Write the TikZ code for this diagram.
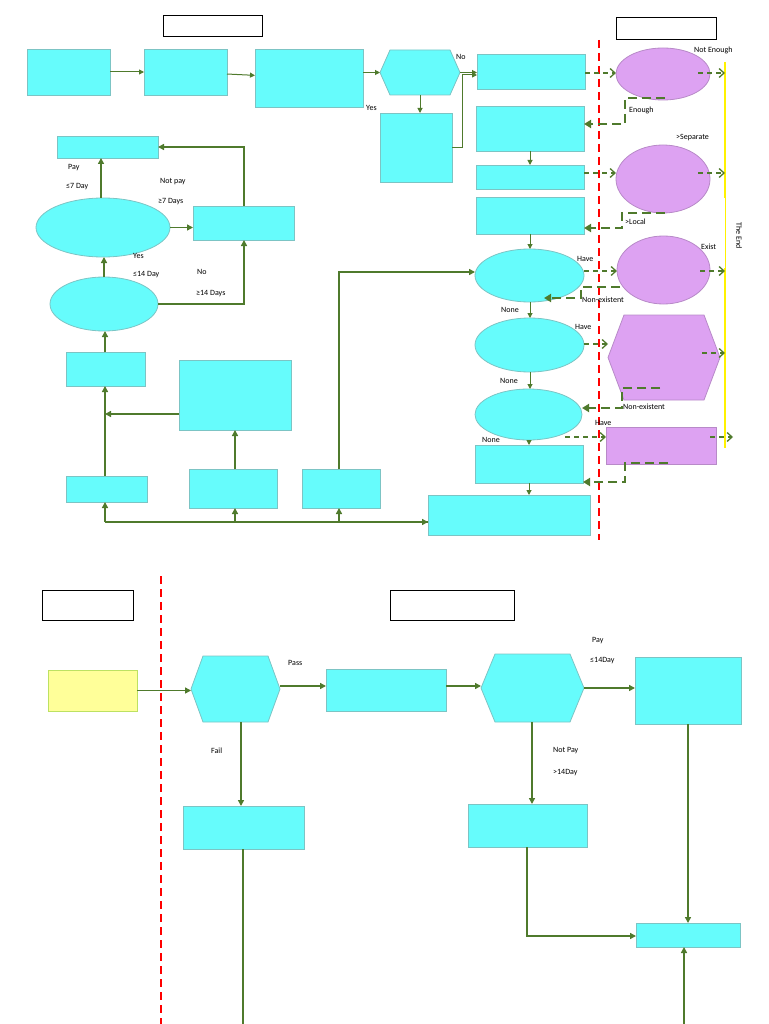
\documentclass[tikz,border=0pt]{standalone}
\usepackage{fontspec}
\setmainfont{Carlito}
\usetikzlibrary{arrows.meta,shapes.geometric}
\definecolor{cy}{HTML}{66FCFC}
\definecolor{cyd}{HTML}{7CC4C4}
\definecolor{pu}{HTML}{DDA2F2}
\definecolor{pud}{HTML}{B88AC8}
\definecolor{gr}{HTML}{4F7A2C}
\definecolor{ye}{HTML}{FFFF99}
\tikzset{
 base/.style={inner sep=0pt,outer sep=0pt},
 cbox/.style={base,rectangle,fill=cy,draw=cyd,line width=0.8pt},
 cell/.style={base,ellipse,fill=cy,draw=cyd,line width=0.8pt},
 pbox/.style={base,rectangle,fill=pu,draw=pud,line width=0.8pt},
 pell/.style={base,ellipse,fill=pu,draw=pud,line width=0.8pt},
 tbox/.style={base,rectangle,draw=black,line width=1pt},
 ybox/.style={base,rectangle,fill=ye,draw=cyd!50!yellow,line width=0.8pt},
 inv/.style={base,rectangle},
 ar/.style={draw=gr,line width=1.6pt,-{Triangle[length=6pt,width=6pt]}},
 arl/.style={draw=gr,line width=1pt,-{Triangle[length=5pt,width=5pt]}},
 ln/.style={draw=gr,line width=1.6pt},
 da/.style={draw=gr,line width=1.3pt,dash pattern=on 5pt off 4pt,-{Straight Barb[length=5pt,width=9pt]}},
 db/.style={draw=gr,line width=2.5pt,dash pattern=on 9pt off 5pt,-{Triangle[length=7pt,width=8pt]}},
 lb/.style={font=\fontsize{8}{9}\selectfont,inner sep=0pt,anchor=west},
}
\newcommand\R[6]{\node[#1,minimum width={#5-#3},minimum height={#6-#4}] (#2) at ({(#3+#5)/2},{(#4+#6)/2}) {};}
\newcommand\Hx[3]{\fill[#3] ([xshift=#2]#1.north west)--([xshift=-#2]#1.north east)--(#1.east)--([xshift=-#2]#1.south east)--([xshift=#2]#1.south west)--(#1.west)--cycle;}
\begin{document}
\begin{tikzpicture}[x=1pt,y=-1pt]
\useasboundingbox (0,0) rectangle (768,1024);
% titles
\R{tbox}{t1}{163}{16}{262}{37}
\R{tbox}{t2}{616}{18}{716}{40}
\R{tbox}{t3}{42}{590}{133}{620}
\R{tbox}{t4}{390}{590}{514}{620}
% red lines
\draw[red,line width=1.6pt,dash pattern=on 8pt off 5pt] (599,40)--(599,540);
\draw[red,line width=1.6pt,dash pattern=on 8pt off 5pt] (161,576)--(161,1024);
\draw[yellow,line width=2pt] (725,62)--(725,198);
\draw[yellow,line width=0.6pt] (725,198)--(725,268);
\draw[yellow,line width=2pt] (725,268)--(725,448);
\node[rotate=-90,font=\fontsize{8}{9}\selectfont] (te) at (739,236) {The End};
% top row
\R{cbox}{r1}{27}{49}{110}{95}
\R{cbox}{r2}{144}{49}{227}{95}
\R{cbox}{r3}{255}{49}{363}{107}
\R{inv}{h1}{380}{50}{460}{95}
\Hx{h1}{10pt}{cy,draw=cyd,line width=0.8pt}
\R{cbox}{rA}{380}{113}{452}{182}
\R{cbox}{b1}{477}{54}{585}{89}
\R{cbox}{b2}{476}{106}{584}{151}
\R{cbox}{b3}{476}{165}{584}{189}
\R{cbox}{b4}{476}{197}{584}{234}
\R{cell}{e1}{475}{249}{584}{302}
\R{cell}{e2}{475}{318}{584}{372}
\R{cell}{e3}{475}{389}{582}{440}
\R{cbox}{b5}{475}{445}{583}{483}
\R{cbox}{b6}{428}{495}{590}{535}
% purple
\R{pell}{p1}{616}{48}{710}{100}
\R{pell}{p2}{616}{145}{710}{213}
\R{pell}{p3}{617}{236}{710}{304}
\R{inv}{p4}{608}{315}{720}{400}
\Hx{p4}{16pt}{pu,draw=pud,line width=0.8pt}
\R{pbox}{p5}{606}{427}{716}{464}
% left part
\R{cbox}{g1}{57}{136}{158}{158}
\R{cell}{le1}{36}{198}{170}{257}
\R{cbox}{g2}{193}{206}{294}{240}
\R{cell}{le2}{50}{277}{158}{331}
\R{cbox}{g3}{66}{352}{145}{386}
\R{cbox}{g4}{179}{360}{291}{430}
\R{cbox}{c1}{66}{476}{147}{502}
\R{cbox}{c2}{189}{469}{277}{508}
\R{cbox}{c3}{302}{469}{380}{508}
% top connectors
\draw[arl] (r1)--(r2);
\draw[arl] (r2)--(r3);
\draw[arl] (r3.east|-h1.west)--(h1.west);
\draw[arl] (h1.east)--(b1.west|-h1.east);
\draw[arl] (h1.south)--(rA.north-|h1.south);
\draw[arl] (rA.east|-0,148)--(462,148)--(462,75)--(b1.west|-0,75);
\draw[arl] (b2.south-|530,0)--(b3.north-|530,0);
\draw[arl] (b4.south-|530,0)--(e1.north-|530,0);
\draw[arl] (e1.south-|530,0)--(e2.north-|530,0);
\draw[arl] (e2.south-|530,0)--(e3.north-|530,0);
\draw[arl] (e3.south-|529,0)--(b5.north-|529,0);
\draw[arl] (b5.south-|529,0)--(b6.north-|529,0);
% dashed to purple
\draw[da] (b1.east|-0,73)--(p1.west|-0,73);
\draw[da] (698,73)--(725,73);
\draw[db] (665,98)--(625,98)--(625,124)--(b2.east|-0,124);
\draw[da] (b3.east|-0,173)--(p2.west|-0,173);
\draw[da] (698,173)--(725,173);
\draw[db] (665,213)--(622,213)--(622,228)--(b4.east|-0,228);
\draw[da] (e1.east|-0,271)--(p3.west|-0,271);
\draw[da] (700,271)--(725,271);
\draw[db] (620,287)--(581,287)--(581,298)--(544,298);
\draw[da] (e2.east|-0,344)--(p4.west|-0,344);
\draw[da] (702,353)--(725,353);
\draw[db] (660,388)--(622,388)--(622,408)--(e3.east|-0,408);
\draw[da] (565,437)--(p5.west|-0,437);
\draw[da] (710,437)--(733,437);
\draw[db] (668,463)--(625,463)--(625,482)--(b5.east|-0,482);
% left connectors
\draw[ar] (le1.north-|101,0)--(g1.south-|101,0);
\draw[ar] (le1.east)--(g2.west|-le1.east);
\draw[ar] (g2.north-|244,0)--(244,147)--(g1.east|-0,147);
\draw[ar] (le2.east)--(244,304)--(g2.south-|244,0);
\draw[ar] (le2.north-|104,0)--(le1.south-|104,0);
\draw[ar] (g3.north-|105,0)--(le2.south-|105,0);
\draw[ar] (g4.west|-0,414)--(105,414);
\draw[ar] (c1.north-|105,0)--(g3.south-|105,0);
\draw[ar] (c2.north-|235,0)--(g4.south-|235,0);
\draw[ar] (c3.north-|339,0)--(339,272)--(e1.west|-0,272);
\draw[ln] (105,522)--(b6.west|-0,522);
\draw[ar] (105,522)--(c1.south-|105,0);
\draw[ar] (235,522)--(c2.south-|235,0);
\draw[ar] (339,522)--(c3.south-|339,0);
\draw[ar] (400,522)--(b6.west|-0,522);
% labels top
\node[lb] (l1) at (456,57) {No};
\node[lb] (l2) at (366,108) {Yes};
\node[lb] (l3) at (694,50) {Not Enough};
\node[lb] (l4) at (629,110) {Enough};
\node[lb] (l5) at (676,138) {>Separate};
\node[lb] (l6) at (625,222) {>Local};
\node[lb] (l7) at (701,247) {Exist};
\node[lb] (l8) at (577,259) {Have};
\node[lb] (l9) at (582,300) {Non-existent};
\node[lb] (l10) at (501,310) {None};
\node[lb] (l11) at (575,327) {Have};
\node[lb] (l12) at (500,381) {None};
\node[lb] (l13) at (623,407) {Non-existent};
\node[lb] (l14) at (595,423) {Have};
\node[lb] (l15) at (482,440) {None};
\node[lb] (l16) at (68,168) {Pay};
\node[lb] (l17) at (66,187) {≤7 Day};
\node[lb] (l18) at (160,182) {Not pay};
\node[lb] (l19) at (158,202) {≥7 Days};
\node[lb] (l20) at (133,256) {Yes};
\node[lb] (l21) at (133,275) {≤14 Day};
\node[lb] (l22) at (197,272) {No};
\node[lb] (l23) at (196,294) {≥14 Days};
% bottom half
\R{ybox}{y1}{48}{670}{137}{711}
\R{inv}{h2}{191}{656}{280}{722}
\Hx{h2}{12pt}{cy,draw=cyd,line width=0.8pt}
\R{cbox}{r4}{326}{669}{446}{711}
\R{inv}{h3}{481}{654}{584}{722}
\Hx{h3}{14pt}{cy,draw=cyd,line width=0.8pt}
\R{cbox}{r5}{635}{657}{741}{724}
\R{cbox}{r6}{183}{806}{304}{849}
\R{cbox}{r7}{468}{804}{587}{847}
\R{cbox}{r8}{636}{923}{740}{947}
\draw[ar] (y1.east)--(h2.west|-y1.east);
\draw[ar] (h2.east|-0,686)--(r4.west|-0,686);
\draw[ar] (r4.east|-0,686)--(h3.west|-0,686);
\draw[ar] (h3.east|-0,688)--(r5.west|-0,688);
\draw[ar] (h2.south-|241,0)--(r6.north-|241,0);
\draw[ar] (h3.south-|532,0)--(r7.north-|532,0);
\draw[ln] (r6.south-|243,0)--(243,1024);
\draw[ar] (r7.south-|527,0)--(527,936)--(r8.west|-0,936);
\draw[ar] (r5.south-|688,0)--(r8.north-|688,0);
\coordinate (bt) at (684,1024);
\draw[ar] (bt)--(r8.south-|684,0);
\node[lb] (m1) at (288,663) {Pass};
\node[lb] (m2) at (211,751) {Fail};
\node[lb] (m3) at (592,641) {Pay};
\node[lb] (m4) at (590,661) {≤14Day};
\node[lb] (m5) at (553,751) {Not Pay};
\node[lb] (m6) at (553,773) {>14Day};
\end{tikzpicture}
\end{document}
